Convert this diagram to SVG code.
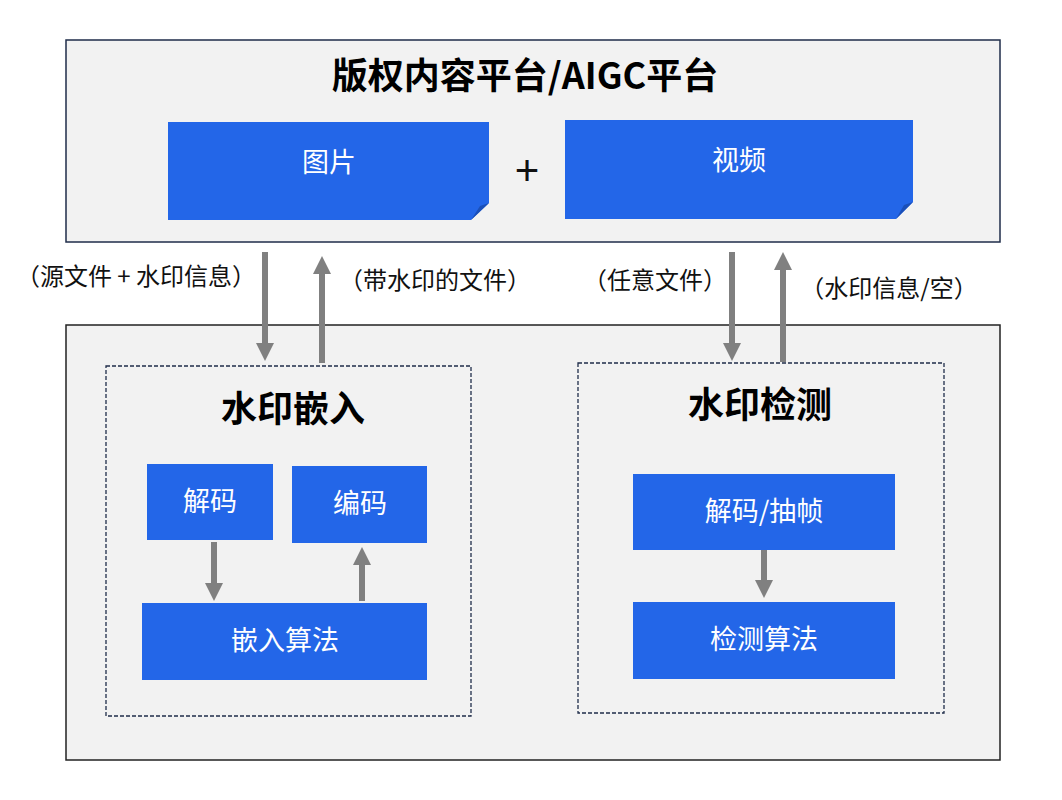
<svg xmlns="http://www.w3.org/2000/svg" width="1062" height="800" viewBox="0 0 1062 800">
<defs>
<style>
.t{font-family:"Noto Sans CJK SC","Liberation Sans",sans-serif;}
.title{font-size:36px;font-weight:bold;fill:#000;text-anchor:middle;}
.bl{font-size:27px;fill:#fff;text-anchor:middle;}
.lb{font-size:24px;fill:#111;text-anchor:middle;}
.blue{fill:#2366e8;}
.dash{fill:none;stroke:#1f2d4a;stroke-width:1.3;stroke-dasharray:4 2;}
.conn{stroke:#808080;stroke-width:6;fill:none;}
</style>
<marker id="ah" viewBox="0 0 10 10" refX="5" refY="5" markerWidth="3" markerHeight="3" orient="auto" markerUnits="strokeWidth">
<path d="M0,0 L10,5 L0,10 Z" fill="#808080"/>
</marker>
</defs>
<rect width="1062" height="800" fill="#fff"/>
<g id="platform">
<rect x="66" y="40" width="934" height="202" fill="#f2f2f2" stroke="#1f2d4a" stroke-width="1.5"/>
<text class="t title" x="525" y="89">版权内容平台/AIGC平台</text>
</g>
<g id="image">
<path class="blue" d="M168,122 H489 V203 L471,220 H168 Z"/>
<path d="M471,220 L489,203 L480,206 Z" fill="#1a4fb8"/>
<text class="t bl" x="329" y="172">图片</text>
</g>
<g id="plus"><text x="527" y="185" font-family="'Liberation Sans',sans-serif" font-size="42" text-anchor="middle" fill="#111">+</text></g>
<g id="video">
<path class="blue" d="M565,120 H913 V202 L896,219 H565 Z"/>
<path d="M896,219 L913,202 L904,205 Z" fill="#1a4fb8"/>
<text class="t bl" x="739" y="170">视频</text>
</g>
<g id="service">
<rect x="66" y="325" width="934" height="435" fill="#f2f2f2" stroke="#222" stroke-width="1.5"/>
</g>
<g id="embed">
<rect class="dash" x="106" y="366" width="365" height="350"/>
<text class="t title" x="293" y="422">水印嵌入</text>
</g>
<g id="decode"><rect class="blue" x="147" y="464" width="126" height="76"/><text class="t bl" x="210" y="511">解码</text></g>
<g id="encode"><rect class="blue" x="292" y="466" width="135" height="77"/><text class="t bl" x="360" y="513">编码</text></g>
<g id="embedalgo"><rect class="blue" x="142" y="603" width="285" height="77"/><text class="t bl" x="285" y="650">嵌入算法</text></g>
<g id="detect">
<rect class="dash" x="578" y="363" width="366" height="350"/>
<text class="t title" x="760" y="418">水印检测</text>
</g>
<g id="extract"><rect class="blue" x="633" y="474" width="262" height="76"/><text class="t bl" x="764" y="521">解码/抽帧</text></g>
<g id="detectalgo"><rect class="blue" x="633" y="602" width="262" height="77"/><text class="t bl" x="764" y="649">检测算法</text></g>
<g id="connectors">
<line class="conn" x1="265" y1="252" x2="265" y2="352" marker-end="url(#ah)"/>
<line class="conn" x1="322" y1="363" x2="322" y2="265" marker-end="url(#ah)"/>
<line class="conn" x1="732" y1="252" x2="732" y2="352" marker-end="url(#ah)"/>
<line class="conn" x1="783" y1="362" x2="783" y2="261" marker-end="url(#ah)"/>
<line class="conn" x1="214" y1="542" x2="214" y2="592" marker-end="url(#ah)"/>
<line class="conn" x1="362" y1="601" x2="362" y2="556" marker-end="url(#ah)"/>
<line class="conn" x1="764" y1="550" x2="764" y2="589" marker-end="url(#ah)"/>
</g>
<g id="labels">
<text class="t lb" x="136" y="285">（源文件 + 水印信息）</text>
<text class="t lb" x="435" y="289">（带水印的文件）</text>
<text class="t lb" x="655" y="289">（任意文件）</text>
<text class="t lb" x="889" y="297">（水印信息/空）</text>
</g>
</svg>
